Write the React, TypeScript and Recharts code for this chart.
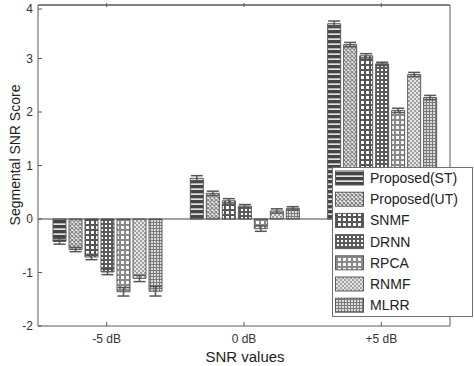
import React from 'react';
import { BarChart, Bar, XAxis, YAxis, ReferenceLine, ErrorBar } from 'recharts';

const categories = ['-5 dB', '0 dB', '+5 dB'];
const yTicks = [-2, -1, 0, 1, 2, 3, 4];

const seriesNames = ['Proposed(ST)', 'Proposed(UT)', 'SNMF', 'DRNN', 'RPCA', 'RNMF', 'MLRR'];
const seriesKeys = ['st', 'ut', 'snmf', 'drnn', 'rpca', 'rnmf', 'mlrr'];

const proposedST = [-0.42, 0.76, 3.65];
const proposedUT = [-0.57, 0.48, 3.26];
const snmf = [-0.71, 0.34, 3.05];
const drnn = [-0.99, 0.24, 2.9];
const rpca = [-1.36, -0.18, 2.03];
const rnmf = [-1.11, 0.15, 2.7];
const mlrr = [-1.35, 0.2, 2.27];

const stErr = [0.05, 0.05, 0.05];
const utErr = [0.04, 0.04, 0.04];
const snmfErr = [0.05, 0.04, 0.04];
const drnnErr = [0.05, 0.03, 0.03];
const rpcaErr = [0.08, 0.05, 0.04];
const rnmfErr = [0.06, 0.04, 0.04];
const mlrrErr = [0.09, 0.03, 0.04];

const values = [proposedST, proposedUT, snmf, drnn, rpca, rnmf, mlrr];
const errors = [stErr, utErr, snmfErr, drnnErr, rpcaErr, rnmfErr, mlrrErr];

const data = categories.map((cat, i) => {
  const row: any = { cat };
  seriesKeys.forEach((k, s) => {
    row[k] = values[s][i];
    row[k + 'Err'] = errors[s][i];
  });
  return row;
});

const FONT = '"Liberation Sans", Arial, sans-serif';
const EDGE = '#5a5a5a';

// grayscale hatch fills, one per method
const Patterns = ({ p }: { p: string }) => (
  <defs>
    <pattern id={p + 'st'} width="5" height="5" patternUnits="userSpaceOnUse">
      <rect width="5" height="5" fill="#e2e2e2" />
      <rect width="5" height="3.3" fill="#454545" />
    </pattern>
    <pattern id={p + 'ut'} width="4" height="4" patternUnits="userSpaceOnUse">
      <rect width="4" height="4" fill="#f0f0f0" />
      <path d="M0,0 L4,4 M4,0 L0,4" stroke="#808080" strokeWidth="1.1" />
    </pattern>
    <pattern id={p + 'snmf'} width="5" height="5" patternUnits="userSpaceOnUse">
      <rect width="5" height="5" fill="#555" />
      <rect x="1" y="1" width="3" height="3" fill="#fff" />
    </pattern>
    <pattern id={p + 'drnn'} width="4" height="4" patternUnits="userSpaceOnUse">
      <rect width="4" height="4" fill="#5a5a5a" />
      <rect x="1" y="1" width="2" height="2" fill="#fff" />
    </pattern>
    <pattern id={p + 'rpca'} width="5" height="5" patternUnits="userSpaceOnUse">
      <rect width="5" height="5" fill="#8a8a8a" />
      <rect x="1" y="1" width="3" height="3" fill="#fafafa" />
    </pattern>
    <pattern id={p + 'rnmf'} width="4" height="4" patternUnits="userSpaceOnUse">
      <rect width="4" height="4" fill="#e6e6e6" />
      <rect width="2" height="2" fill="#a0a0a0" />
      <rect x="2" y="2" width="2" height="2" fill="#a0a0a0" />
    </pattern>
    <pattern id={p + 'mlrr'} width="3" height="3" patternUnits="userSpaceOnUse">
      <rect width="3" height="3" fill="#dcdcdc" />
      <path d="M0,0.5 H3 M0.5,0 V3" stroke="#7a7a7a" strokeWidth="1" />
    </pattern>
  </defs>
);

const LeftTick = (props: any) => {
  const { x, y, payload } = props;
  return (
    <g>
      <line x1={x + 5} y1={y} x2={x + 9} y2={y} stroke={EDGE} />
      <text x={x} y={y} dy="0.35em" textAnchor="end" fontSize={12} fill="#333" fontFamily={FONT}>
        {payload.value}
      </text>
    </g>
  );
};

const RightTick = (props: any) => {
  const { x, y } = props;
  return <line x1={x - 4} y1={y} x2={x} y2={y} stroke={EDGE} />;
};

const BottomTick = (props: any) => {
  const { x, y, payload } = props;
  return (
    <g>
      <line x1={x} y1={y - 8} x2={x} y2={y - 12} stroke={EDGE} />
      <text x={x} y={y} dy="0.71em" textAnchor="middle" fontSize={12} fill="#333" fontFamily={FONT}>
        {payload.value}
      </text>
    </g>
  );
};

const TopTick = (props: any) => {
  const { x, y } = props;
  return <line x1={x} y1={y} x2={x} y2={y + 4} stroke={EDGE} />;
};

const Legend = () => (
  <svg
    width={141}
    height={150}
    style={{ position: 'absolute', left: 332, top: 167 }}
  >
    <Patterns p="lg" />
    <rect x={0.5} y={0.5} width={140} height={149} fill="#fff" stroke="#707070" />
    {seriesNames.map((name, i) => {
      const cy = 11 + i * 21.2;
      return (
        <g key={name}>
          <rect x={3.5} y={cy - 7} width={28} height={14} fill={`url(#lg${seriesKeys[i]})`} stroke={EDGE} />
          <text x={38} y={cy} dy="0.35em" fontSize={14} fill="#222" fontFamily={FONT}>
            {name}
          </text>
        </g>
      );
    })}
  </svg>
);

export default function App() {
  return (
    <div style={{ position: 'absolute', left: 0, top: 0, width: 474, height: 366, background: '#fff' }}>
      <BarChart
        width={474}
        height={366}
        data={data}
        margin={{ top: 4, right: 23, bottom: 0, left: 0 }}
        barCategoryGap={15}
        barGap={3}
      >
        <Patterns p="bar" />
        <XAxis
          dataKey="cat"
          height={40}
          tickSize={0}
          tickMargin={8}
          tick={BottomTick}
          stroke={EDGE}
          label={() => (
            <text x={245} y={362} textAnchor="middle" fontSize={15} fill="#222" fontFamily={FONT}>
              SNR values
            </text>
          )}
        />
        <XAxis xAxisId="t" dataKey="cat" orientation="top" height={1} tickSize={0} tick={TopTick} stroke={EDGE} />
        <YAxis
          domain={[-2, 4]}
          ticks={yTicks}
          width={38}
          tickSize={0}
          tickMargin={5}
          tick={LeftTick}
          stroke={EDGE}
          label={() => (
            <text
              x={15}
              y={155}
              transform="rotate(-90, 15, 155)"
              dy="0.35em"
              textAnchor="middle"
              fontSize={14}
              fill="#222"
              fontFamily={FONT}
            >
              Segmental SNR Score
            </text>
          )}
        />
        <YAxis
          yAxisId="r"
          orientation="right"
          domain={[-2, 4]}
          ticks={yTicks}
          width={1}
          tickSize={0}
          tick={RightTick}
          stroke={EDGE}
        />
        <ReferenceLine y={4} stroke={EDGE} />
        {seriesKeys.map((k) => (
          <Bar key={k} dataKey={k} fill={`url(#bar${k})`} stroke={EDGE} strokeWidth={1} isAnimationActive={false}>
            <ErrorBar dataKey={k + 'Err'} width={6} stroke="#555" strokeWidth={1.5} direction="y" />
          </Bar>
        ))}
        <ReferenceLine y={0} stroke="#444" />
      </BarChart>
      <Legend />
    </div>
  );
}
